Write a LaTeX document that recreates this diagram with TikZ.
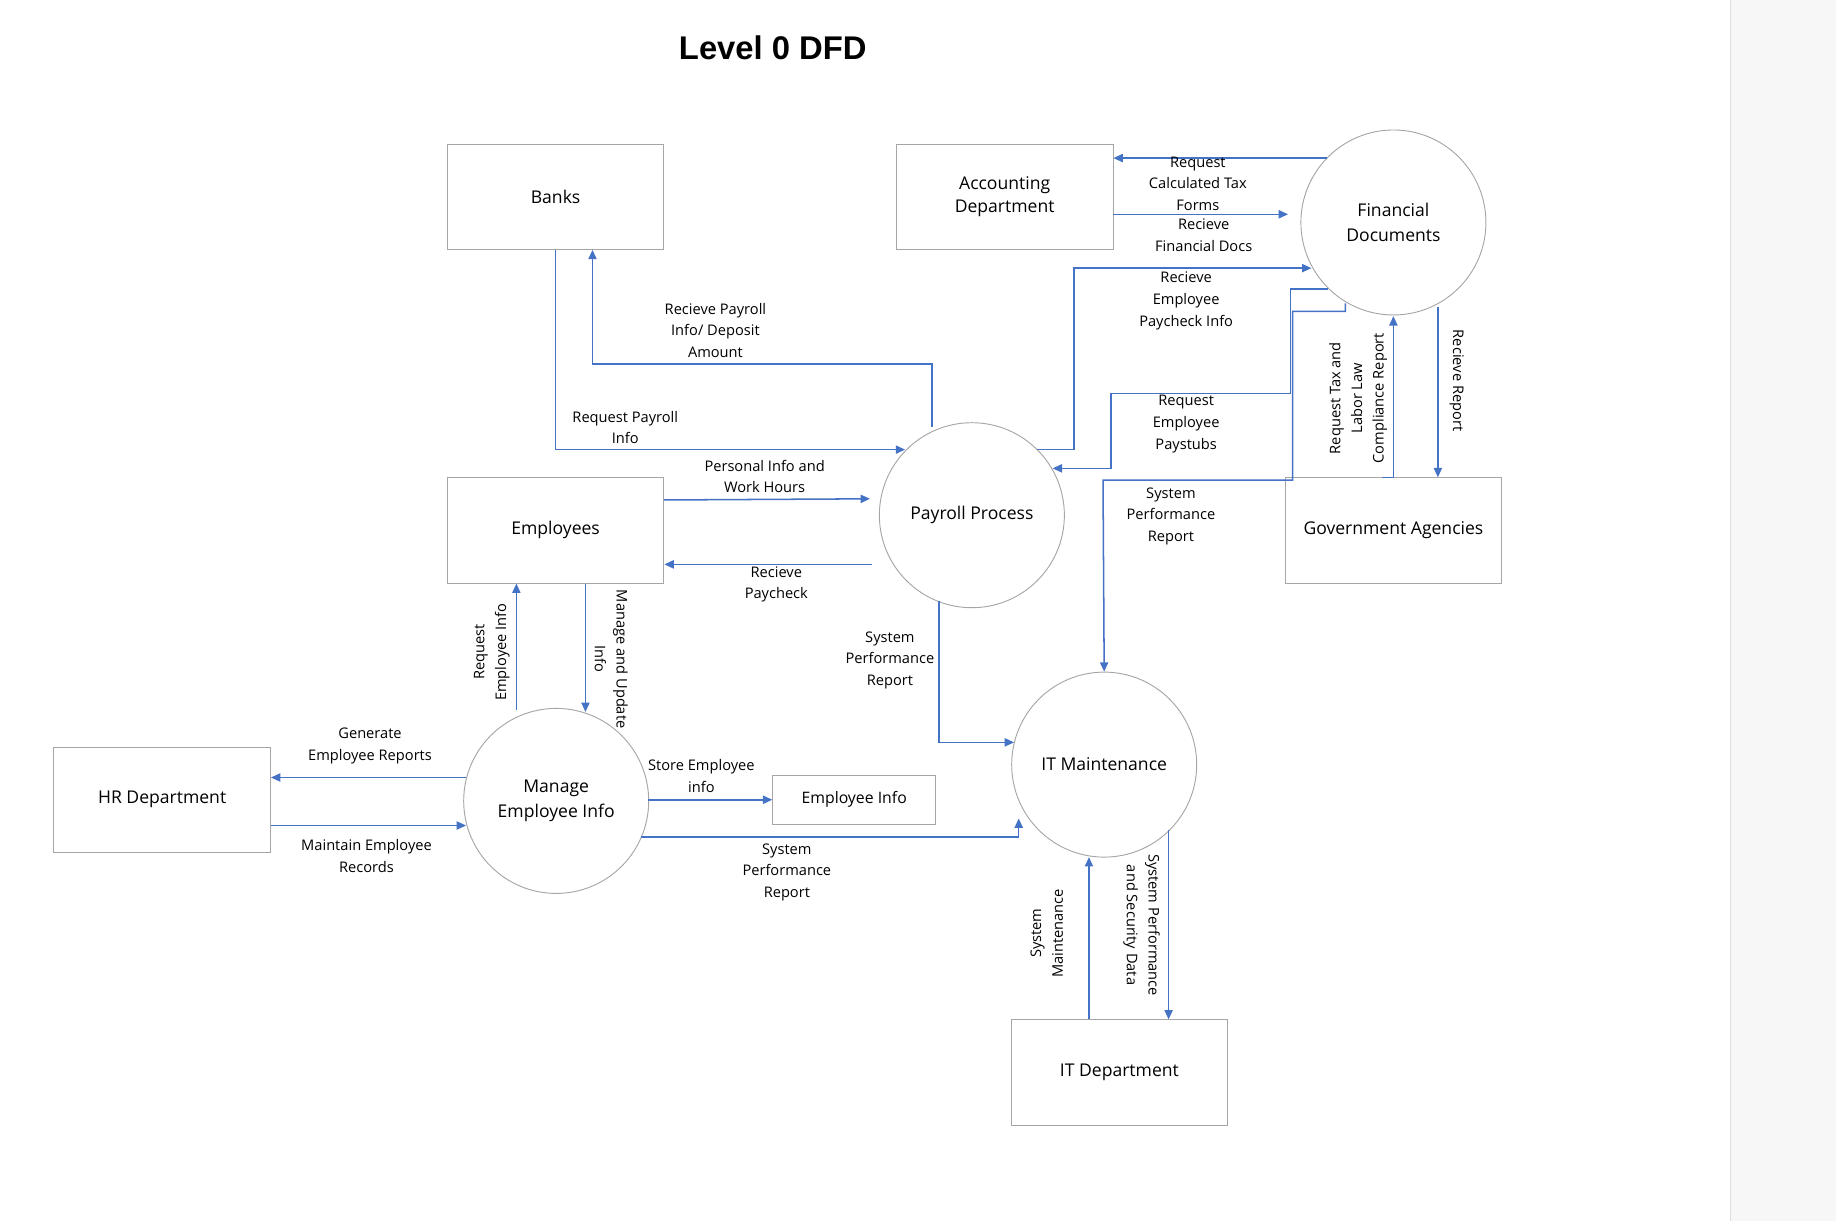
\documentclass[tikz,border=0pt]{standalone}
\usepackage{fontspec}
\setmainfont{Open Sans}
\newfontfamily\titlefont{Liberation Sans}
\usetikzlibrary{arrows.meta}
\definecolor{ln}{HTML}{4472C4}
\definecolor{bd}{HTML}{A6A6A6}
\begin{document}
\begin{tikzpicture}[x=1pt,y=-1pt,
  box/.style={draw=bd,line width=0.8pt,minimum width=185pt,minimum height=90pt,inner sep=0pt,font=\fontsize{15}{20}\selectfont,align=center},
  proc/.style={circle,draw=bd,line width=0.8pt,minimum size=158pt,inner sep=0pt,font=\fontsize{15}{21}\selectfont,align=center},
  fl/.style={draw=ln,line width=1.3pt,-{Triangle[width=7pt,length=8pt]}},
  lb/.style={font=\fontsize{12.5}{18.5}\selectfont,align=center,inner sep=0pt}]
\useasboundingbox (0,0) rectangle (1568,1043);
\fill[gray!6] (1478,0) rectangle (1568,1043);
\draw[gray!25] (1478,0) -- (1478,1043);
\node[font=\titlefont\bfseries\fontsize{28}{32}\selectfont] (title) at (660,41) {Level 0 DFD};
\node[box] (banks) at (474.5,168) {Banks};
\node[box] (acc) at (858,168) {Accounting\\Department};
\node[proc] (fin) at (1190,190) {Financial\\Documents};
\node[box] (emp) at (474.5,453) {Employees};
\node[proc] (pay) at (830,440) {Payroll Process};
\node[box] (gov) at (1190,453) {Government Agencies};
\node[box] (hr) at (138.5,683) {HR Department};
\node[proc] (man) at (475,684) {Manage\\Employee Info};
\node[draw=bd,line width=0.8pt,minimum width=139pt,minimum height=42pt,inner sep=0pt,font=\fontsize{13.5}{18}\selectfont] (store) at (729.5,683) {Employee Info};
\node[proc] (itm) at (943,653) {IT Maintenance};
\node[box] (itd) at (956,916) {IT Department};
\coordinate (f1) at (1133,135);
\coordinate (f2) at (1134,247);
\coordinate (f3) at (1149,259);
\draw[fl] (f1) -- (acc.east |- f1);
\draw[fl] (acc.east |- 0,183) -- (1100,183);
\draw[fl] (banks.south) |- (773,384);
\draw[fl] (796,365) |- (506,311) -- (banks.south -| 506,0);
\draw[fl] (567,427) -- (743,426);
\draw[fl] (745,482) -- (emp.east |- 0,482);
\draw[fl] (886,384) -| (917,229) -- (1120,229);
\draw[fl] (f2) -| (1102,336) -| (949,400) -- (899,400);
\draw[fl] (f3) |- (1104,266) |- (942,410) -- (itm.north);
\draw[fl] (gov.north -| 1180,0) -- ++(10,0) -- (1190,270);
\draw[fl] (1228,262) -- (gov.north -| 1228,0);
\draw[fl] (emp.south -| 500,0) -- (500,608);
\draw[fl] (441,606) -- (emp.south -| 441,0);
\draw[fl] (398,664) -- (hr.east |- 0,664);
\draw[fl] (hr.east |- 0,705) -- (398,705);
\draw[fl] (553,683) -- (store.west);
\draw[fl] (547,715) -| (870,699);
\draw[fl] (802,513) |- (866,634);
\draw[fl] (itd.north -| 930,0) -- (930,732);
\draw[fl] (998,709) -- (itd.north -| 998,0);
\node[lb] (l1) at (1023,157) {Request\\Calculated Tax\\Forms};
\node[lb] (l2) at (1028,201) {Recieve\\Financial Docs};
\node[lb] (l3) at (534,365) {Request Payroll\\Info};
\node[lb] (l4) at (611,282) {Recieve Payroll\\Info/ Deposit\\Amount};
\node[lb] (l5) at (653,407) {Personal Info and\\Work Hours};
\node[lb] (l6) at (663,499) {Recieve\\Paycheck};
\node[lb] (l7) at (1013,257) {Recieve\\Employee\\Paycheck Info};
\node[lb] (l8) at (1013,362) {Request\\Employee\\Paystubs};
\node[lb] (l9) at (1000,441) {System\\Performance\\Report};
\node[lb,rotate=90] (l10) at (1160,340) {Request Tax and\\Labor Law\\Compliance Report};
\node[lb,rotate=-90] (l11) at (1244,325) {Recieve Report};
\node[lb,rotate=90] (l12) at (420,557) {Request\\Employee Info};
\node[lb,rotate=-90] (l13) at (522,563) {Manage and Update\\Info};
\node[lb] (l14) at (316,637) {Generate\\Employee Reports};
\node[lb] (l15) at (313,731) {Maintain Employee\\Records};
\node[lb] (l16) at (599,663) {Store Employee\\info};
\node[lb] (l17) at (672,745) {System\\Performance\\Report};
\node[lb] (l18) at (760,564) {System\\Performance\\Report};
\node[lb,rotate=90] (l19) at (894,797) {System\\Maintenance};
\node[lb,rotate=-90] (l20) at (975,790) {System Performance\\and Security Data};
\end{tikzpicture}
\end{document}
